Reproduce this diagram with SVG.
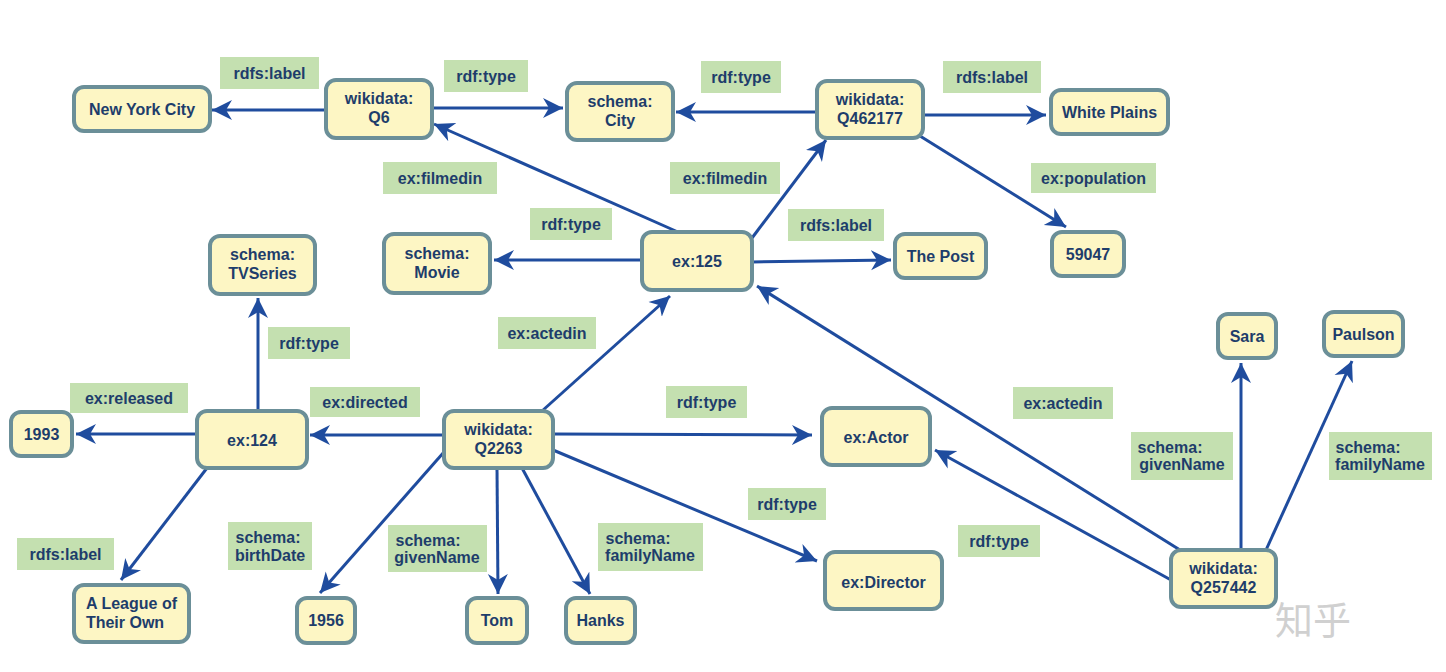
<svg xmlns="http://www.w3.org/2000/svg" width="1446" height="672" viewBox="0 0 1446 672">
<style>
.n rect{fill:#fdf6c4;stroke:#6b8f98;stroke-width:4}
.n text,.l text{font-family:"Liberation Sans",Arial,sans-serif;font-weight:bold;font-size:16px;fill:#1e3d6b;text-anchor:middle}
.l rect{fill:#c4e0b0}
.c line{stroke:#1f4c9e;stroke-width:3;marker-end:url(#a)}
</style>
<defs><marker id="a" markerUnits="userSpaceOnUse" markerWidth="22" markerHeight="22" refX="20" refY="11" orient="auto" viewBox="0 0 22 22"><path d="M0,1 L20,11 L0,21 L6,11 z" fill="#1f4c9e"/></marker></defs>
<rect width="1446" height="672" fill="#fff"/>
<g class="c">
<line x1="326" y1="110" x2="212" y2="110"/>
<line x1="432" y1="108" x2="563" y2="108"/>
<line x1="817" y1="112" x2="676" y2="112"/>
<line x1="923" y1="115" x2="1046" y2="115"/>
<line x1="920" y1="136" x2="1066" y2="227"/>
<line x1="678" y1="232" x2="434" y2="124"/>
<line x1="752" y1="238" x2="826" y2="140"/>
<line x1="642" y1="260" x2="494" y2="260"/>
<line x1="752" y1="262" x2="891" y2="260"/>
<line x1="542" y1="411" x2="670" y2="296"/>
<line x1="1180" y1="550" x2="757" y2="286"/>
<line x1="258" y1="411" x2="258" y2="298"/>
<line x1="197" y1="434" x2="76" y2="434"/>
<line x1="207" y1="468" x2="121" y2="580"/>
<line x1="444" y1="435" x2="310" y2="435"/>
<line x1="553" y1="434" x2="812" y2="435"/>
<line x1="444" y1="452" x2="320" y2="593"/>
<line x1="497" y1="468" x2="498" y2="594"/>
<line x1="522" y1="468" x2="590" y2="594"/>
<line x1="553" y1="450" x2="817" y2="561"/>
<line x1="1171" y1="580" x2="935" y2="450"/>
<line x1="1241" y1="550" x2="1241" y2="363"/>
<line x1="1266" y1="550" x2="1352" y2="361"/>
</g>
<g class="l">
<g><rect x="220" y="57" width="99" height="32"/><text x="269.5" y="79">rdfs:label</text></g>
<g><rect x="444" y="60" width="84" height="32"/><text x="486" y="82">rdf:type</text></g>
<g><rect x="701" y="61" width="80" height="32"/><text x="741" y="83">rdf:type</text></g>
<g><rect x="943" y="61" width="98" height="32"/><text x="992" y="83">rdfs:label</text></g>
<g><rect x="383" y="162" width="114" height="32"/><text x="440" y="184">ex:filmedin</text></g>
<g><rect x="670" y="162" width="110" height="32"/><text x="725" y="184">ex:filmedin</text></g>
<g><rect x="1031" y="163" width="125" height="30"/><text x="1093.5" y="184">ex:population</text></g>
<g><rect x="530" y="208" width="82" height="32"/><text x="571" y="230">rdf:type</text></g>
<g><rect x="788" y="209" width="96" height="32"/><text x="836" y="231">rdfs:label</text></g>
<g><rect x="498" y="317" width="98" height="32"/><text x="547" y="339">ex:actedin</text></g>
<g><rect x="268" y="327" width="82" height="32"/><text x="309" y="349">rdf:type</text></g>
<g><rect x="70" y="383" width="118" height="30"/><text x="129" y="404">ex:released</text></g>
<g><rect x="310" y="387" width="110" height="30"/><text x="365" y="408">ex:directed</text></g>
<g><rect x="666" y="386" width="81" height="32"/><text x="706.5" y="408">rdf:type</text></g>
<g><rect x="1013" y="387" width="100" height="32"/><text x="1063" y="409">ex:actedin</text></g>
<g><rect x="1131" y="432" width="102" height="48"/><text x="1170" y="453">schema:</text><text x="1182" y="470">givenName</text></g>
<g><rect x="1329" y="432" width="103" height="48"/><text x="1368" y="453">schema:</text><text x="1380" y="470">familyName</text></g>
<g><rect x="748" y="488" width="78" height="32"/><text x="787" y="510">rdf:type</text></g>
<g><rect x="228" y="522" width="84" height="48"/><text x="268" y="543">schema:</text><text x="270" y="561">birthDate</text></g>
<g><rect x="388" y="525" width="99" height="47"/><text x="428" y="546">schema:</text><text x="437" y="563">givenName</text></g>
<g><rect x="598" y="523" width="105" height="48"/><text x="638" y="544">schema:</text><text x="650" y="561">familyName</text></g>
<g><rect x="17" y="538" width="97" height="32"/><text x="65.5" y="560">rdfs:label</text></g>
<g><rect x="958" y="525" width="82" height="32"/><text x="999" y="547">rdf:type</text></g>
</g>
<g class="n" id="nyc"><rect x="74" y="87" width="136" height="44" rx="10"/><text x="142" y="115">New York City</text></g>
<g class="n" id="q6"><rect x="326" y="80" width="106" height="58" rx="10"/><text x="379" y="104">wikidata:</text><text x="379" y="123">Q6</text></g>
<g class="n" id="city"><rect x="567" y="83" width="106" height="57" rx="10"/><text x="620" y="107">schema:</text><text x="620" y="126">City</text></g>
<g class="n" id="q462177"><rect x="817" y="81" width="106" height="57" rx="10"/><text x="870" y="105">wikidata:</text><text x="870" y="124">Q462177</text></g>
<g class="n" id="wp"><rect x="1051" y="90" width="117" height="44" rx="10"/><text x="1109.5" y="118">White Plains</text></g>
<g class="n" id="tvs"><rect x="210" y="236" width="105" height="58" rx="10"/><text x="262.5" y="260">schema:</text><text x="262.5" y="279">TVSeries</text></g>
<g class="n" id="movie"><rect x="384" y="234" width="106" height="59" rx="10"/><text x="437" y="259">schema:</text><text x="437" y="278">Movie</text></g>
<g class="n" id="ex125"><rect x="642" y="232" width="110" height="58" rx="10"/><text x="697" y="267">ex:125</text></g>
<g class="n" id="post"><rect x="895" y="234" width="91" height="44" rx="10"/><text x="940.5" y="262">The Post</text></g>
<g class="n" id="pop"><rect x="1052" y="232" width="72" height="44" rx="10"/><text x="1088" y="260">59047</text></g>
<g class="n" id="sara"><rect x="1218" y="314" width="58" height="44" rx="10"/><text x="1247" y="342">Sara</text></g>
<g class="n" id="paulson"><rect x="1324" y="312" width="79" height="44" rx="10"/><text x="1363.5" y="340">Paulson</text></g>
<g class="n" id="y1993"><rect x="11" y="412" width="61" height="44" rx="10"/><text x="41.5" y="440">1993</text></g>
<g class="n" id="ex124"><rect x="197" y="411" width="110" height="57" rx="10"/><text x="252" y="446">ex:124</text></g>
<g class="n" id="q2263"><rect x="444" y="411" width="109" height="57" rx="10"/><text x="498.5" y="435">wikidata:</text><text x="498.5" y="454">Q2263</text></g>
<g class="n" id="actor"><rect x="822" y="408" width="108" height="57" rx="10"/><text x="876" y="443">ex:Actor</text></g>
<g class="n" id="league"><rect x="74" y="585" width="115" height="57" rx="10"/><text x="131.5" y="609">A League of</text><text x="125" y="628">Their Own</text></g>
<g class="n" id="y1956"><rect x="297" y="598" width="58" height="45" rx="10"/><text x="326" y="626">1956</text></g>
<g class="n" id="tom"><rect x="467" y="598" width="60" height="45" rx="10"/><text x="497" y="626">Tom</text></g>
<g class="n" id="hanks"><rect x="566" y="598" width="69" height="45" rx="10"/><text x="600.5" y="626">Hanks</text></g>
<g class="n" id="director"><rect x="825" y="552" width="117" height="57" rx="10"/><text x="883.5" y="588">ex:Director</text></g>
<g class="n" id="q257442"><rect x="1171" y="550" width="105" height="57" rx="10"/><text x="1223.5" y="574">wikidata:</text><text x="1223.5" y="593">Q257442</text></g>
<text x="1275" y="634" font-family="'Noto Sans CJK SC',sans-serif" font-size="38" fill="#d0d0d0">知乎</text>
</svg>
